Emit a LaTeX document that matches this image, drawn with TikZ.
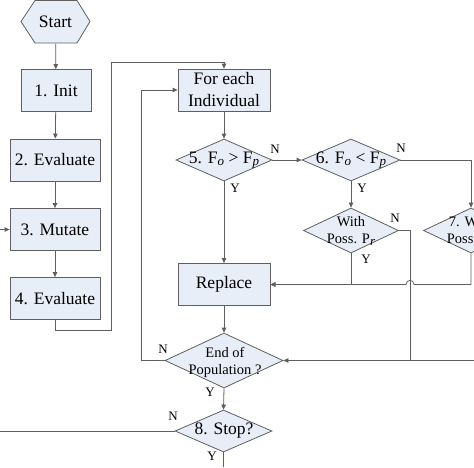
\documentclass[tikz,border=0pt]{standalone}
\usepackage{fontspec}
\setmainfont{Liberation Serif}
\usetikzlibrary{shapes.geometric,arrows.meta}
\definecolor{boxfill}{RGB}{232,238,248}
\definecolor{ln}{RGB}{95,95,95}
\newcommand{\smsub}[1]{\raisebox{-1.5pt}{\fontsize{13}{13}\selectfont\itshape #1}}
\begin{document}
\begin{tikzpicture}[x=1pt,y=-1pt,
  line width=0.8pt,
  big/.style={font=\fontsize{17.5}{22}\selectfont},
  mid/.style={font=\fontsize{14.5}{17}\selectfont},
  lab/.style={font=\fontsize{13}{13}\selectfont,inner sep=0pt},
  box/.style={draw=ln,fill=boxfill,minimum width=#1,minimum height=42pt,inner sep=0pt,align=center,big},
  box/.default=90pt,
  dia/.style={draw=ln,fill=boxfill,diamond,inner sep=0pt,minimum width=#1,minimum height=42pt},
  dia/.default=96pt,
  dtext/.style={inner sep=0pt,align=center},
  arr/.style={draw=ln,-{Triangle[length=5pt,width=4.5pt]}},
  con/.style={draw=ln}]
\useasboundingbox (0,0) rectangle (474,467);

% start hexagon
\filldraw[draw=ln,fill=boxfill] (21,21.5) -- (35,0.5) -- (77,0.5) -- (90,21.5) -- (77,43) -- (35,43) -- cycle;
\node[big,minimum width=69pt,minimum height=43pt,inner sep=0pt] (start) at (55.5,21.75) {Start};

% left column
\node[box=70pt] (init) at (56,90.5) {1. Init};
\node[box] (ev2) at (55,160) {2. Evaluate};
\node[box] (mut) at (55,229.5) {3. Mutate};
\node[box] (ev4) at (55,298.5) {4. Evaluate};

% center column
\node[box=92pt,minimum height=42pt] (foreach) at (224,90) {For each\\Individual};
\node[dia] (d5) at (224,160) {};
\node[dtext,big] (t5) at (224,160) {5. F\smsub{o} > F\smsub{p}};
\node[box=92pt] (replace) at (224,284.5) {Replace};
\node[dia=118pt,minimum height=55pt] (end) at (224,360.5) {};
\node[dtext,mid] (tend) at (225,362) {End of\\Population ?};
\node[dia=97pt] (stop) at (223.5,431) {};
\node[dtext,big] (tstop) at (224,431) {8. Stop?};

% right part
\node[dia=98pt] (d6) at (351,160) {};
\node[dtext,big] (t6) at (351,160) {6. F\smsub{o} < F\smsub{p}};
\node[dia=95pt,minimum height=45pt] (dw) at (351,230.5) {};
\node[dtext,mid] (tw) at (351,231) {With\\Poss. P\smsub{r}};
\node[dia=95pt,minimum height=45pt] (d7) at (471,230.5) {};
\node[dtext,mid] (t7) at (471,231) {7. With\\Poss. P\smsub{r}};

\coordinate (inmut) at (0,229.5);
\coordinate (inend) at (474,360.5);
\coordinate (outstop) at (0,431);
\coordinate (ystop) at (223.5,467);

% connectors
\draw[arr] (start) -- (init);
\draw[arr] (init) -- (ev2);
\draw[arr] (ev2) -- (mut);
\draw[arr] (mut) -- (ev4);
\draw[arr] (inmut) -- (mut.west);
\draw[arr] (ev4.south) -- (55,330) -| (111,62) -| (foreach.north);
\draw[arr] (foreach) -- (d5);
\draw[arr] (d5.east) -- (d6.west);
\draw[arr] (d6.south) -- (dw.north);
\draw[arr] (d6.east) -| (d7.north);
\draw[arr] (d5.south) -- (replace.north);
\draw[arr] (dw.south) |- (replace.east);
\draw[arr] (d7.south) -- (471,284.5) -- (414,284.5) .. controls (414,279) and (406,279) .. (406,284.5) -- (replace.east);
\draw[con] (dw.east) -| (410,360.5);
\draw[arr] (inend) -- (end.east);
\draw[arr] (replace.south) -- (end.north);
\draw[arr] (end.west) -- (141,360.5) |- (foreach.west);
\draw[arr] (end.south) -- (stop.north);
\draw[con] (stop.west) -- (outstop);
\draw[con] (stop.south) -- (ystop);

% labels
\node[lab] (n5) at (275,149) {N};
\node[lab] (y5) at (235,188) {Y};
\node[lab] (n6) at (401,148) {N};
\node[lab] (y6) at (362,188) {Y};
\node[lab] (nw) at (395,218) {N};
\node[lab] (yw) at (366,259) {Y};
\node[lab] (nend) at (163,349) {N};
\node[lab] (yend) at (210,392) {Y};
\node[lab] (nstop) at (173,416) {N};
\node[lab] (ystoplab) at (212,456) {Y};
\end{tikzpicture}
\end{document}
